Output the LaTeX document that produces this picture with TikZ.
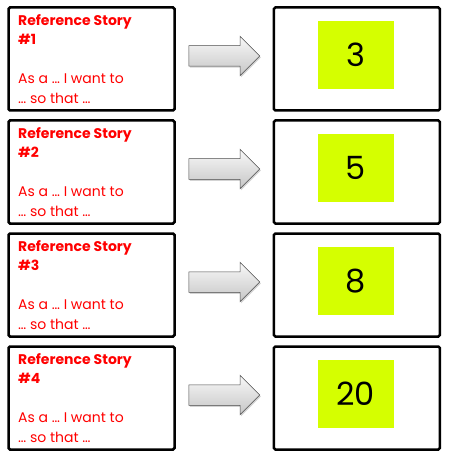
\documentclass[tikz,border=0pt]{standalone}
\usepackage{fontspec}
\setmainfont{Poppins}
\usetikzlibrary{calc}
\usetikzlibrary{shapes.arrows}
\usetikzlibrary{shadows}

\definecolor{sticky}{RGB}{213,255,0}

\begin{document}
\begin{tikzpicture}[x=1pt,y=-1pt,
    % styles
    card/.style={draw=black,line width=2.5pt,rounded corners=1.5pt,
      minimum width=166pt,minimum height=103pt,inner sep=0pt},
    story text/.style={red,align=left,anchor=north west,inner sep=0pt,
      font=\fontsize{14}{19.5}\selectfont},
    estimate/.style={fill=sticky,minimum width=76pt,minimum height=68pt,
      inner sep=0pt,font=\fontsize{32}{32}\selectfont},
    block arrow/.style={single arrow,minimum height=71pt,minimum width=39pt,
      single arrow head extend=9.5pt,single arrow tip angle=90,
      inner xsep=0pt,inner ysep=10pt,
      draw=gray!60!black,line width=0.5pt,top color=gray!5,bottom color=gray!45,
      drop shadow={opacity=0.35,shadow xshift=1pt,shadow yshift=-1.5pt}}]

  \useasboundingbox (0,0) rectangle (448,457);

  % rows
  \foreach \n/\pts in {1/3,2/5,3/8,4/20} {
    \node[card] (story\n) at (91.5,{59+113*(\n-1)}) {};
    \node[card] (points\n) at (356.8,{59+113*(\n-1)}) {};
    \node[story text] (text\n) at (18,{14+113*(\n-1)})
      {\textbf{Reference Story}\\ \textbf{\#\n}\\[19.5pt]
       As a \dots\ I want to\\ \dots\ so that \dots};
    \node[estimate,xshift=-1pt,yshift=4pt] (sticky\n) at (points\n) {\pts};
    \node[block arrow,xshift=-5pt,yshift=3pt] (arrow\n)
      at ($(story\n.east)!0.5!(points\n.west)$) {};
  }
\end{tikzpicture}
\end{document}
